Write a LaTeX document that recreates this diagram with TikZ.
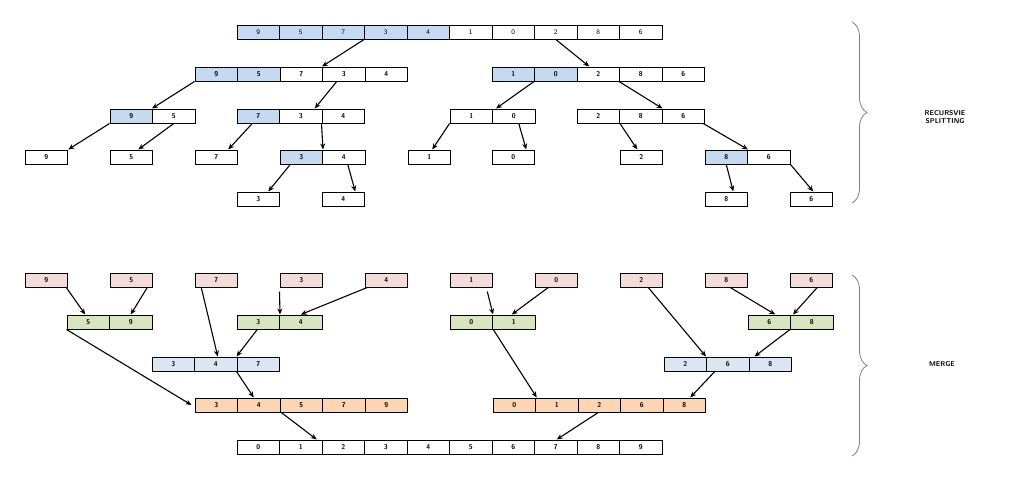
\documentclass[tikz,border=0pt]{standalone}
\usetikzlibrary{arrows.meta,decorations.pathreplacing}
\definecolor{azul}{RGB}{197,217,241}
\definecolor{rosa}{RGB}{242,220,219}
\definecolor{verde}{RGB}{215,228,189}
\definecolor{cinza}{RGB}{220,230,242}
\definecolor{laranja}{RGB}{252,213,180}
\tikzset{
  cell/.style={draw, line width=1pt, minimum width=42.5pt, minimum height=14pt,
    inner sep=0pt, font=\sffamily\bfseries\fontsize{7}{8}\selectfont},
  seta/.style={line width=1.1pt, -{Stealth[length=6pt,width=5pt]}},
  chave/.style={decorate, decoration={brace, amplitude=15pt}, gray, line width=0.8pt},
  rotulo/.style={font=\sffamily\bfseries\fontsize{7}{8}\selectfont, align=center}
}
% linha de celulas: nome, x esquerdo, y, lista valor/cor
\newcommand\linha[4]{\foreach \v/\f [count=\i] in {#4}
  \node[cell, fill=\f] (#1-\i) at ({#2+(\i-0.5)*42.5}, #3) {\v};}
\begin{document}
\begin{tikzpicture}[x=1pt, y=-1pt]
  \useasboundingbox (0,0) rectangle (1024,493);

  %divisao
  \foreach \v/\f [count=\i] in {9/azul,5/azul,7/azul,3/azul,4/azul,1/white,0/white,2/white,8/white,6/white}
    \node[cell, fill=\f, font=\sffamily\fontsize{7}{8}\selectfont] (r0-\i) at ({237+(\i-0.5)*42.5}, 32) {\v};
  \linha{r1a}{195}{74}{9/azul,5/azul,7/white,3/white,4/white}
  \linha{r1b}{492}{74}{1/azul,0/azul,2/white,8/white,6/white}
  \linha{r2a}{110}{116}{9/azul,5/white}
  \linha{r2b}{237}{116}{7/azul,3/white,4/white}
  \linha{r2c}{450}{116}{1/white,0/white}
  \linha{r2d}{577}{116}{2/white,8/white,6/white}
  \linha{r3a}{25}{157}{9/white}
  \linha{r3b}{110}{157}{5/white}
  \linha{r3c}{195}{157}{7/white}
  \linha{r3d}{280}{157}{3/azul,4/white}
  \linha{r3e}{408}{157}{1/white}
  \linha{r3f}{492}{157}{0/white}
  \linha{r3g}{620}{157}{2/white}
  \linha{r3h}{705}{157}{8/azul,6/white}
  \linha{r4a}{237}{199}{3/white}
  \linha{r4b}{322}{199}{4/white}
  \linha{r4c}{705}{199}{8/white}
  \linha{r4d}{790}{199}{6/white}

  \draw[seta] (r0-4.south west) -- (r1a-4.north west);
  \draw[seta] (r0-8.south) -- ([xshift=-9pt]r1b-3.north);
  \draw[seta] (r1a-1.south west) -- (r2a-2.north west);
  \draw[seta] ([xshift=-7pt]r1a-4.south) -- ([xshift=14pt]r2b-2.north);
  \draw[seta] (r1b-2.south west) -- ([xshift=4pt]r2c-2.north west);
  \draw[seta] (r1b-4.south west) -- (r2d-2.north east);
  \draw[seta] (r2a-1.south west) -- ([xshift=22pt]r3a-1.north);
  \draw[seta] (r2a-2.south) -- ([xshift=7pt]r3b-1.north);
  \draw[seta] ([xshift=-6pt]r2b-1.south) -- ([xshift=12pt]r3c-1.north);
  \draw[seta] (r2b-3.south west) -- (r3d-1.north east);
  \draw[seta] (r2c-1.south west) -- ([xshift=3pt]r3e-1.north);
  \draw[seta] ([xshift=5pt]r2c-2.south) -- ([xshift=13pt]r3f-1.north);
  \draw[seta] (r2d-1.south east) -- ([xshift=-4pt]r3g-1.north);
  \draw[seta] ([xshift=20pt]r2d-3.south) -- (r3h-1.north east);
  \draw[seta] ([xshift=-11pt]r3d-1.south) -- ([xshift=10pt]r4a-1.north);
  \draw[seta] ([xshift=4pt]r3d-2.south) -- ([xshift=12pt]r4b-1.north);
  \draw[seta] (r3h-1.south) -- ([xshift=7pt]r4c-1.north);
  \draw[seta] (r3h-2.south east) -- ([xshift=2pt]r4d-1.north);

  %intercalacao
  \foreach \v [count=\i] in {9,5,7,3,4,1,0,2,8,6}
    \node[cell, fill=rosa] (m0-\i) at ({25+85*(\i-1)+21.25}, 280) {\v};
  \linha{m1a}{67}{322}{5/verde,9/verde}
  \linha{m1b}{237}{322}{3/verde,4/verde}
  \linha{m1c}{450}{322}{0/verde,1/verde}
  \linha{m1d}{748}{322}{6/verde,8/verde}
  \linha{m2a}{152}{364}{3/cinza,4/cinza,7/cinza}
  \linha{m2b}{664}{364}{2/cinza,6/cinza,8/cinza}
  \linha{m3a}{195}{405}{3/laranja,4/laranja,5/laranja,7/laranja,9/laranja}
  \linha{m3b}{493}{405}{0/laranja,1/laranja,2/laranja,6/laranja,8/laranja}
  \linha{m4}{237}{447}{0/white,1/white,2/white,3/white,4/white,5/white,6/white,7/white,8/white,9/white}

  \draw[seta] ([xshift=20pt]m0-1.south) -- ([xshift=-3pt]m1a-1.north);
  \draw[seta] ([xshift=16pt]m0-2.south) -- (m1a-2.north);
  \draw[seta] ([xshift=-15pt]m0-3.south) -- ([xshift=2pt]m2a-2.north);
  \draw[seta] ([yshift=-4pt]m0-4.south west) -- (m1b-1.north east);
  \draw[seta] ([xshift=-19pt]m0-5.south) -- (m1b-2.north);
  \draw[seta] (m1a-1.south west) -- ([xshift=-3pt]m3a-1.west);
  \draw[seta] ([xshift=-1pt]m1b-1.south) -- (m2a-3.north west);
  \draw[seta] (m2a-3.south west) -- ([xshift=-5pt]m3a-2.north);
  \draw[seta] ([xshift=-20pt]m3a-3.south) -- ([xshift=16pt]m4-2.north);
  \draw[seta] ([xshift=16pt,yshift=-4pt]m0-6.south) -- (m1c-1.north east);
  \draw[seta] ([xshift=-8pt]m0-7.south) -- ([xshift=-2pt]m1c-2.north);
  \draw[seta] ([xshift=22pt]m1c-1.south) -- ([xshift=-20pt]m3b-2.north);
  \draw[seta] ([xshift=7pt]m0-8.south) -- (m2b-2.north west);
  \draw[seta] ([xshift=4pt]m0-9.south) -- ([xshift=6pt]m1d-1.north);
  \draw[seta] ([xshift=6pt]m0-10.south) -- ([xshift=3pt]m1d-2.north west);
  \draw[seta] (m1d-2.south west) -- ([xshift=6pt]m2b-3.north west);
  \draw[seta] ([xshift=-13pt]m2b-2.south) -- ([xshift=6pt]m3b-5.north);
  \draw[seta] ([xshift=-1pt]m3b-3.south) -- ([xshift=1pt]m4-8.north);

  %chaves
  \draw[chave] (852,22) -- (852,203);
  \draw[chave] (852,275) -- (852,456);
  \node[rotulo] (divisao) at (945,117) {RECURSVIE\\SPLITTING};
  \node[rotulo] (merge) at (942,364) {MERGE};
\end{tikzpicture}
\end{document}
